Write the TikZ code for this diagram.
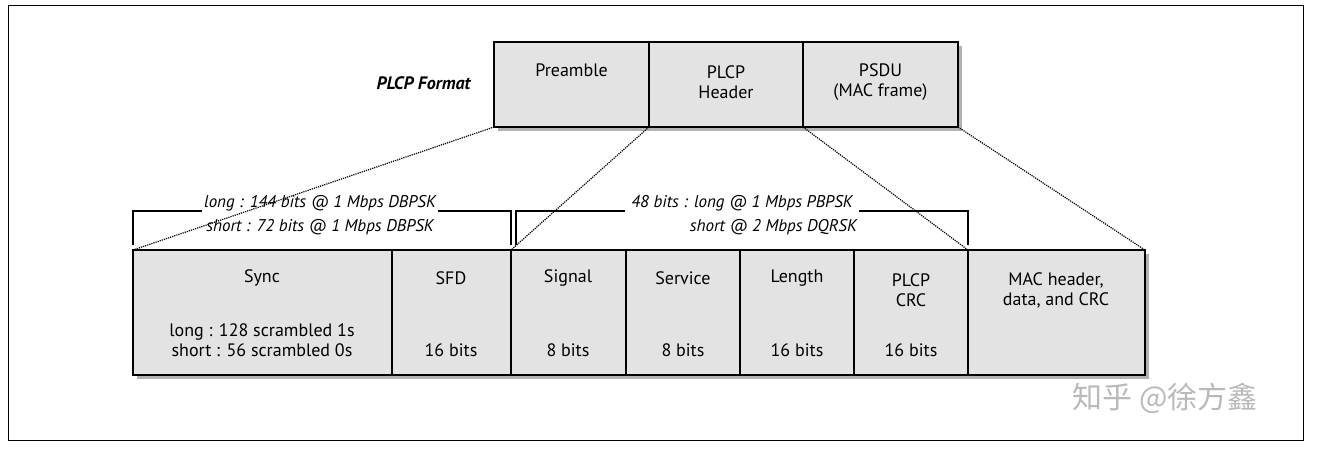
\documentclass[tikz,border=0pt]{standalone}
\usepackage{fontspec}
\setmainfont{PT Sans}
\newfontfamily\cjk{Noto Sans CJK SC}
\begin{document}
\begin{tikzpicture}[x=1pt,y=-1pt,
  box/.style={draw=black,line width=1.5pt,fill=gray!22},
  shad/.style={fill=gray!60,draw=none},
  lbl/.style={font=\fontsize{18}{20}\selectfont,align=center},
  dl/.style={densely dotted,line width=1.2pt},
  br/.style={line width=1.3pt}]
\useasboundingbox (0,0) rectangle (1319,451);
\draw[line width=0.8pt] (8,5) rectangle (1303,440);
% top
\fill[shad] (498,46) rectangle (962,131);
\draw[box] (494,42) rectangle (649,127);
\draw[box] (649,42) rectangle (803,127);
\draw[box] (803,42) rectangle (958,127);
\node[lbl] (pre) at (571.5,70) {Preamble};
\node[lbl] (hdr) at (726,82) {PLCP\\Header};
\node[lbl] (psdu) at (880.5,82) {PSDU\\(MAC frame)};
\node[lbl,font=\fontsize{18}{20}\selectfont\bfseries\itshape,anchor=east] (fmt) at (474,83) {PLCP Format};
% bottom
\fill[shad] (137,254) rectangle (1149,379);
\draw[box] (133,250) rectangle (1145,375);
\foreach \x in {392,511,626,740,854,968} \draw[line width=1.5pt] (\x,250) -- (\x,375);
\node[lbl] (sync) at (262,278) {Sync};
\node[lbl] (syncb) at (262,340) {long : 128 scrambled 1s\\short : 56 scrambled 0s};
\node[lbl] (sfd) at (451,278) {SFD};
\node[lbl] (sfdb) at (451,350) {16 bits};
\node[lbl] (sig) at (568,278) {Signal};
\node[lbl] (sigb) at (568,350) {8 bits};
\node[lbl] (ser) at (683,278) {Service};
\node[lbl] (serb) at (683,350) {8 bits};
\node[lbl] (len) at (797,278) {Length};
\node[lbl] (lenb) at (797,350) {16 bits};
\node[lbl] (crc) at (911,290) {PLCP\\CRC};
\node[lbl] (crcb) at (911,350) {16 bits};
\node[lbl] (mac) at (1056,290) {MAC header,\\data, and CRC};
% brackets
\coordinate (l1) at (133,245); \coordinate (l2) at (133,211); \coordinate (l3) at (511,211); \coordinate (l4) at (511,245);
\draw[br] (l1) -- (l2) -- (l3) -- (l4);
\node[lbl,font=\fontsize{17}{24}\selectfont\itshape,fill=white,inner sep=2pt] (ltxt) at (320,215) {long : 144 bits @ 1 Mbps DBPSK\\short : 72 bits @ 1 Mbps DBPSK};
\coordinate (r1) at (516,245); \coordinate (r2) at (516,211); \coordinate (r3) at (968,211); \coordinate (r4) at (968,245);
\draw[br] (r1) -- (r2) -- (r3) -- (r4);
\node[lbl,font=\fontsize{17}{24}\selectfont\itshape,fill=white,inner sep=2pt] (rtxt) at (742,215) {48 bits : long @ 1 Mbps PBPSK\\\phantom{48 bits : }short @ 2 Mbps DQRSK};
% dotted lines
\coordinate (a1) at (494,127); \coordinate (b1) at (133,250);
\coordinate (a2) at (649,127); \coordinate (b2) at (511,250);
\coordinate (a3) at (803,127); \coordinate (b3) at (968,250);
\coordinate (a4) at (958,127); \coordinate (b4) at (1145,250);
\begin{scope}[on background layer/.style={}]
\draw[dl] (a1) -- (b1);
\draw[dl] (a2) -- (b2);
\draw[dl] (a3) -- (b3);
\draw[dl] (a4) -- (b4);
\end{scope}
\node[font=\cjk\fontsize{30}{32}\selectfont,text=gray!55] (wm) at (1165,398) {知乎 @徐方鑫};
\end{tikzpicture}
\end{document}
